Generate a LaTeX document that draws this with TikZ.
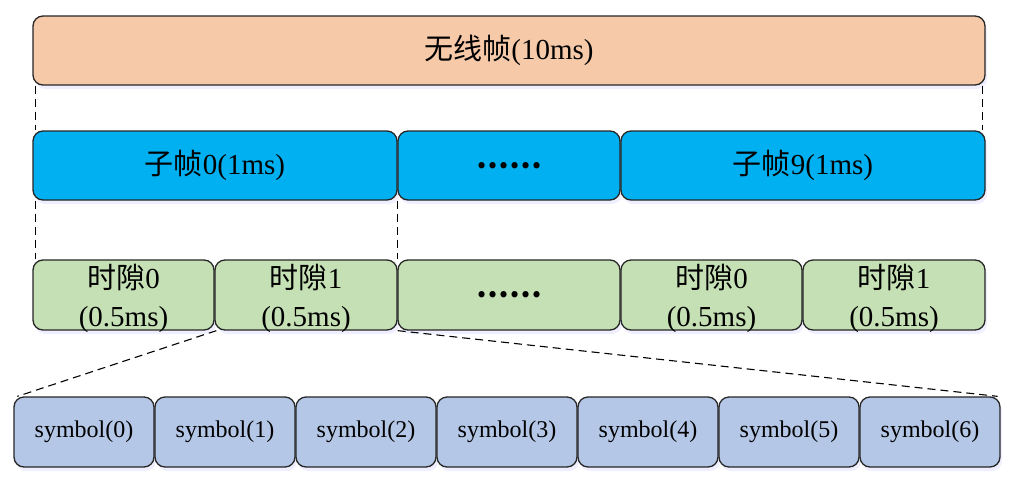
\documentclass[tikz,border=0pt]{standalone}
\usepackage{fontspec}
\setmainfont{Liberation Serif}
\newfontfamily\cjk{Noto Sans CJK SC}
\usepackage{xcolor}
\usepackage{tikz}
\usetikzlibrary{shadows}

\definecolor{framepeach}{HTML}{F6C9A9}
\definecolor{subblue}{HTML}{00B0F0}
\definecolor{slotgreen}{HTML}{C5E0B4}
\definecolor{symblue}{HTML}{B4C7E7}

\newcommand{\lowtext}[1]{\raisebox{-2.5pt}{#1}}
\newcommand{\twolines}[2]{\smash{\raisebox{-11pt}{\begin{tabular}{@{}c@{}}#1\\#2\end{tabular}}}}

\tikzset{
    cell/.style={draw=black!85, line width=1.3pt, rounded corners=10pt, inner sep=0pt,
        drop shadow={shadow xshift=2pt, shadow yshift=-4pt, fill=blue!25, opacity=0.25}},
    big/.style={font=\fontsize{29}{38}\selectfont, align=center},
    small/.style={font=\fontsize{24}{26}\selectfont},
    link/.style={dashed, line width=1.1pt, dash pattern=on 8pt off 5pt}
}

\begin{document}
\begin{tikzpicture}[x=1pt, y=-1pt]
    \useasboundingbox (0,0) rectangle (1020,480);
    % radio frame
    \node[cell, big, fill=framepeach, minimum width=952pt, minimum height=69pt] (radio) at (509,50.5) {\lowtext{{\cjk 无线帧}(10ms)}};
    % subframes
    \foreach \n/\l/\r/\t in {sf0/33/397/{{\cjk 子帧}0(1ms)}, sfd/398/620/{{\bfseries\cjk ……}}, sf9/621/985/{{\cjk 子帧}9(1ms)}} {
        \node[cell, big, fill=subblue, minimum width={(\r-\l)*1pt}, minimum height=69pt] (\n) at ({(\l+\r)/2},165.5) {\lowtext{\t}};
    }
    % slots
    \foreach \n/\l/\r/\t in {slot0/33/214/{\twolines{{\cjk 时隙}0}{(0.5ms)}}, slot1/215/397/{\twolines{{\cjk 时隙}1}{(0.5ms)}},
        slotd/398/620/{\lowtext{{\bfseries\cjk ……}}}, slot2/621/802/{\twolines{{\cjk 时隙}0}{(0.5ms)}}, slot3/803/985/{\twolines{{\cjk 时隙}1}{(0.5ms)}}} {
        \node[cell, big, fill=slotgreen, minimum width={(\r-\l)*1pt}, minimum height=70pt] (\n) at ({(\l+\r)/2},295) {\t};
    }
    % symbols
    \foreach \i in {0,...,6} {
        \node[cell, small, fill=symblue, minimum width=140pt, minimum height=70pt] (sym\i) at ({84+141*\i},432) {\lowtext{symbol(\i)}};
    }
    % zoom lines
    \draw[link] ([xshift=3pt]radio.south west) -- ([xshift=3pt]sf0.north west);
    \draw[link] ([xshift=-3pt]radio.south east) -- ([xshift=-3pt]sf9.north east);
    \draw[link] ([xshift=3pt]sf0.south west) -- ([xshift=3pt]slot0.north west);
    \draw[link] (sf0.south east) -- (slot1.north east);
    \draw[link] ([xshift=2pt]slot1.south west) -- ([xshift=4pt]sym0.north west);
    \draw[link] (slot1.south east) -- ([xshift=-3pt]sym6.north east);
\end{tikzpicture}
\end{document}
